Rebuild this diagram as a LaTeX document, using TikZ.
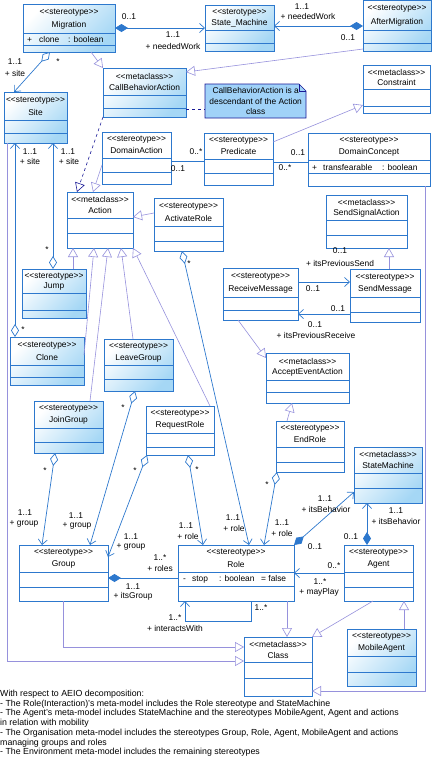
\documentclass[tikz,border=0pt]{standalone}
\usepackage{fontspec}
\setmainfont{Liberation Sans}
\usetikzlibrary{arrows.meta,calc}

\definecolor{umlblue}{RGB}{45,120,205}
\definecolor{gradblue}{RGB}{165,215,245}
\definecolor{genlav}{RGB}{150,145,220}
\definecolor{notenavy}{RGB}{25,25,150}
\definecolor{notefill}{RGB}{160,210,248}

\newcommand\ster[1]{<\kern0pt<#1>\kern0pt>}

\tikzset{
  classbox/.style={draw=umlblue, line width=0.8pt, inner sep=0pt, outer sep=0pt},
  gradbox/.style={top color=white, bottom color=gradblue, shading angle=45},
  plainbox/.style={fill=white},
  compline/.style={draw=umlblue, line width=0.8pt},
  boxtext/.style={font=\fontsize{8.4}{10}\selectfont, inner sep=0pt},
  lbl/.style={font=\fontsize{8.4}{10}\selectfont, inner sep=0pt},
  assoc/.style={draw=umlblue, line width=0.7pt},
  nav/.style={assoc, -{Straight Barb[length=5pt,width=9pt]}},
  agg/.style={assoc, {Diamond[open,length=13pt,width=8pt,fill=white]}-{Straight Barb[length=5pt,width=9pt]}},
  comp/.style={assoc, {Diamond[length=13pt,width=8pt]}-{Straight Barb[length=5pt,width=9pt]}},
  gen/.style={draw=genlav, line width=0.6pt, -{Triangle[open,length=9pt,width=10pt,fill=white]}},
  realize/.style={draw=notenavy, line width=0.6pt, dashed, -{Triangle[open,length=9pt,width=10pt,fill=white]}},
  noteline/.style={draw=notenavy, line width=0.6pt, dashed},
}

% class box: [fill] name, corner, width, height, header, 2nd line, stereotype, title
\newcommand\umlclass[9][plainbox]{%
  \node[classbox,#1,minimum width=#4pt,minimum height=#5pt,anchor=north west] (#2) at (#3) {};
  \draw[compline] ([yshift=-#6pt]#2.north west) -- ([yshift=-#6pt]#2.north east);
  \draw[compline] ([yshift=-#7pt]#2.north west) -- ([yshift=-#7pt]#2.north east);
  \node[boxtext] (#2-st) at ([yshift=-0.3*#6pt]#2.north) {\ster{#8}};
  \node[boxtext] (#2-nm) at ([yshift=-0.73*#6pt]#2.north) {#9};
}

\begin{document}
\begin{tikzpicture}[x=1pt,y=-1pt]
\useasboundingbox (0,0) rectangle (432,763);

% classes
\umlclass[gradbox]{migration}{23,4}{92}{48}{29}{41}{stereotype}{Migration}
\umlclass[gradbox]{statem}{205,5}{69}{46}{25}{38}{sterotype}{State\_Machine}
\umlclass[gradbox]{aftermig}{363,0}{68}{51}{30}{43}{stereotype}{AfterMigration}
\umlclass[gradbox]{callba}{103,68}{83}{49}{27}{40}{metaclass}{CallBehaviorAction}
\umlclass{constraint}{363,65}{67}{48}{24}{41}{metaclass}{Constraint}
\umlclass[gradbox]{site}{4,92}{63}{51}{28}{41}{stereotype}{Site}
\umlclass{domainaction}{102,132}{69}{52}{26}{40}{stereotype}{DomainAction}
\umlclass{predicate}{204,133}{69}{52}{26}{40}{stereotype}{Predicate}
\umlclass{domainconcept}{308,133}{122}{53}{27}{40}{stereotype}{DomainConcept}
\umlclass{action}{67,192}{66}{56}{26}{41}{metaclass}{Action}
\umlclass{activaterole}{154,198}{69}{53}{28}{43}{stereotype}{ActivateRole}
\umlclass{sendsignal}{326,195}{81}{53}{25}{40}{metaclass}{SendSignalAction}
\umlclass{receivemsg}{223,268}{75}{52}{29}{42}{stereotype}{ReceiveMessage}
\umlclass{sendmsg}{350,269}{70}{53}{28}{43}{stereotype}{SendMessage}
\umlclass[gradbox]{jump}{22,269}{64}{49}{24}{41}{stereotype}{Jump}
\umlclass[gradbox]{clone}{10,337}{74}{48}{28}{40}{stereotype}{Clone}
\umlclass[gradbox]{leavegroup}{104,339}{69}{52}{26}{40}{stereotype}{LeaveGroup}
\umlclass{accept}{266,353}{83}{50}{27}{39}{metaclass}{AcceptEventAction}
\umlclass[gradbox]{joingroup}{34,401}{69}{52}{27}{41}{stereotype}{JoinGroup}
\umlclass{requestrole}{146,406}{68}{49}{27}{41}{stereotype}{RequestRole}
\umlclass{endrole}{276,421}{68}{51}{26}{41}{stereotype}{EndRole}
\umlclass[gradbox]{statemachine}{354,447}{68}{56}{26}{41}{metaclass}{StateMachine}
\umlclass{group}{19,545}{89}{56}{27}{42}{stereotype}{Group}
\umlclass{role}{178,545}{116}{56}{27}{41}{stereotype}{Role}
\umlclass{agent}{344,545}{69}{56}{27}{42}{stereotype}{Agent}
\umlclass[gradbox]{mobileagent}{347,629}{69}{57}{27}{43}{stereotype}{MobileAgent}
\umlclass{class}{244,637}{68}{59}{25}{41}{metaclass}{Class}

% attributes
\node[lbl, anchor=west] (migration-at) at (27,39) {\makebox[12pt][l]{+}\makebox[29pt][l]{clone}: boolean};
\node[lbl, anchor=west] (domainconcept-at) at (312,167) {\makebox[11pt][l]{+}\makebox[59pt][l]{transfearable}: boolean};
\node[lbl, anchor=west] (role-at) at (183,579) {\makebox[9pt][l]{-}\makebox[27pt][l]{stop}\makebox[42pt][l]{: boolean}= false};

% note
\filldraw[fill=notefill, draw=notenavy, line width=0.7pt] (205,84) -- (299,84) -- (306,91) -- (306,118) -- (205,118) -- cycle;
\draw[draw=notenavy, line width=0.6pt] (299,84) -- (299,91) -- (306,91);
\node[lbl, minimum width=101pt, minimum height=34pt, anchor=north west, align=center,
  font=\fontsize{8.4}{10.5}\selectfont] (note) at (205,84) {CallBehaviorAction is a\\descendant of the Action\\class};

% associations
\draw[comp] ($(migration.north east)+(0,24)$) -- ($(statem.north west)+(0,23)$);
\draw[comp] ($(aftermig.north west)+(0,26)$) -- ($(statem.north east)+(0,21)$);
\draw[agg] ($(migration.south west)+(27,0)$) -- ($(site.north west)+(10,0)$);
\draw[agg] ($(jump.north west)+(31,0)$) -- ($(site.south west)+(49,0)$);
\draw[agg] ($(clone.north west)+(5,0)$) -- ($(site.south west)+(11,0)$);
\draw[assoc] ($(domainaction.north east)+(0,29)$) -- ($(predicate.north west)+(0,28)$);
\draw[assoc] ($(predicate.north east)+(0,29)$) -- ($(domainconcept.north west)+(0,29)$);
\draw[nav] ($(receivemsg.north east)+(0,14)$) -- ($(sendmsg.north west)+(0,13)$);
\draw[nav] ($(sendmsg.north west)+(0,45)$) -- ($(receivemsg.north east)+(0,46)$);
\draw[agg] ($(activaterole.south west)+(28,0)$) -- ($(role.north west)+(71,0)$);
\draw[agg] ($(requestrole.south west)+(1,0)$) -- ($(group.north east)+(0,12)$);
\draw[agg] ($(requestrole.south west)+(42,0)$) -- ($(role.north west)+(25,0)$);
\draw[agg] ($(joingroup.south west)+(21,0)$) -- ($(group.north west)+(23,0)$);
\draw[agg] ($(leavegroup.south west)+(31,0)$) -- ($(group.north west)+(71,0)$);
\draw[agg] ($(endrole.south west)+(1,0)$) -- ($(role.north west)+(86,0)$);
\draw[comp] (role.north east) -- ($(statemachine.south west)+(0,-11)$);
\draw[comp] ($(agent.north west)+(23,0)$) -- ($(statemachine.south west)+(13,0)$);
\draw[nav] ($(agent.north west)+(0,28)$) -- ($(role.north east)+(0,28)$);
\draw[assoc, {Diamond[length=13pt,width=8pt]}-] ($(group.north east)+(0,33)$) -- ($(role.north west)+(0,33)$);
\draw[nav] ($(role.south west)+(73,0)$) |- ($(role.south west)+(7,20)$) -- ($(role.south west)+(7,0)$);

% generalizations
\draw[gen] ($(aftermig.south west)+(0,-2)$) -- ($(callba.north east)+(0,4)$);
\draw[gen] ($(migration.south west)+(68,0)$) -- (callba.north west);
\draw[gen] ($(predicate.north east)+(0,9)$) -- ($(constraint.north west)+(0,40)$);
\draw[gen] ($(domainaction.north west)+(0,33)$) -- ($(action.north west)+(26,0)$);
\draw[gen] ($(activaterole.north west)+(0,15)$) -- ($(action.north east)+(0,25)$);
\draw[gen] ($(jump.north west)+(51,0)$) -- ($(action.south west)+(6,0)$);
\draw[gen] ($(clone.north east)+(0,18)$) -- ($(action.south west)+(27,0)$);
\draw[gen] ($(joingroup.north west)+(56,0)$) -- ($(action.south west)+(41,0)$);
\draw[gen] ($(leavegroup.north west)+(29,0)$) -- ($(action.south west)+(54,0)$);
\draw[gen] ($(requestrole.north east)+(-4,0)$) -- (action.south east);
\draw[gen] ($(sendmsg.north west)+(39,0)$) -- ($(sendsignal.south west)+(63,0)$);
\draw[gen] ($(receivemsg.south west)+(15,0)$) -- ($(accept.north west)+(0,5)$);
\draw[gen] ($(endrole.north west)+(11,0)$) -- ($(accept.south west)+(26,0)$);
\draw[gen] ($(role.south east)+(-7,0)$) -- ($(class.north west)+(43,0)$);
\draw[gen] ($(agent.south west)+(29,0)$) -- (class.north east);
\draw[gen] ($(mobileagent.north west)+(57,0)$) -- ($(agent.south west)+(60,0)$);
\draw[gen] ($(group.south west)+(44,0)$) |- ($(class.north west)+(0,10)$);
\draw[gen] ($(site.south west)+(3,0)$) |- ($(class.north west)+(0,24)$);
\draw[gen] ($(domainconcept.south east)+(-5,0)$) |- ($(class.north east)+(0,54)$);

% note links
\draw[noteline] ($(callba.north east)+(0,41)$) -- ($(note.north west)+(0,25)$);
\draw[realize] (callba.south west) -- ($(action.north west)+(10,0)$);

% multiplicities and roles
\node[lbl] (m1) at (129,17) {0..1};
\node[lbl] (m2) at (173,35) {1..1};
\node[lbl] (m3) at (173,46) {+ neededWork};
\node[lbl] (m4) at (302,7) {1..1};
\node[lbl] (m5) at (308,16) {+ neededWork};
\node[lbl] (m6) at (348,38) {0..1};
\node[lbl] (m7) at (15,62) {1..1};
\node[lbl] (m8) at (15,73) {+ site};
\node[lbl] (m9) at (58,62) {*};
\node[lbl] (m10) at (196,152) {0..*};
\node[lbl] (m11) at (178,169) {0..1};
\node[lbl] (m12) at (298,153) {0..1};
\node[lbl] (m13) at (285,168) {0..*};
\node[lbl] (m14) at (30,152) {1..1};
\node[lbl] (m15) at (30,161) {+ site};
\node[lbl] (m16) at (68,152) {1..1};
\node[lbl] (m17) at (69,161) {+ site};
\node[lbl] (m18) at (47,250) {*};
\node[lbl] (m19) at (23,330) {*};
\node[lbl] (m20) at (189,264) {*};
\node[lbl] (m21) at (340,251) {0..1};
\node[lbl] (m22) at (340,263) {+ itsPreviousSend};
\node[lbl] (m23) at (313,289) {0..1};
\node[lbl] (m24) at (338,309) {0..1};
\node[lbl] (m25) at (315,325) {0..1};
\node[lbl] (m26) at (316,335) {+ itsPreviousReceive};
\node[lbl] (m27) at (45,471) {*};
\node[lbl] (m28) at (123,408) {*};
\node[lbl] (m29) at (135,471) {*};
\node[lbl] (m30) at (197,470) {*};
\node[lbl] (m31) at (267,485) {*};
\node[lbl] (m32) at (25,513) {1..1};
\node[lbl] (m33) at (24,524) {+ group};
\node[lbl] (m34) at (76,516) {1..1};
\node[lbl] (m35) at (77,526) {+ group};
\node[lbl] (m36) at (131,537) {1..1};
\node[lbl] (m37) at (131,547) {+ group};
\node[lbl] (m38) at (186,526) {1..1};
\node[lbl] (m39) at (188,536) {+ role};
\node[lbl] (m40) at (233,518) {1..1};
\node[lbl] (m41) at (234,528) {+ role};
\node[lbl] (m42) at (282,523) {1..1};
\node[lbl] (m43) at (282,533) {+ role};
\node[lbl] (m44) at (325,499) {1..1};
\node[lbl] (m45) at (326,509) {+ itsBehavior};
\node[lbl] (m46) at (396,511) {1..1};
\node[lbl] (m47) at (396,521) {+ itsBehavior};
\node[lbl] (m48) at (351,537) {0..1};
\node[lbl] (m49) at (315,547) {0..1};
\node[lbl] (m50) at (160,558) {1..*};
\node[lbl] (m51) at (160,568) {+ roles};
\node[lbl] (m52) at (133,587) {1..1};
\node[lbl] (m53) at (133,596) {+ itsGroup};
\node[lbl] (m54) at (334,566) {0..*};
\node[lbl] (m55) at (320,582) {1..*};
\node[lbl] (m56) at (319,592) {+ mayPlay};
\node[lbl] (m57) at (261,608) {1..*};
\node[lbl] (m58) at (175,618) {1..*};
\node[lbl] (m59) at (175,628) {+ interactsWith};

% legend
\node[lbl, anchor=north west, align=left, font=\fontsize{8.8}{9.7}\selectfont] (legend) at (0,690) {%
With respect to AEIO decomposition:\\
- The Role(Interaction)'s meta-model includes the Role stereotype and StateMachine\\
- The Agent's meta-model includes StateMachine and the stereotypes MobileAgent, Agent and actions\\
in relation with mobility\\
- The Organisation meta-model includes the stereotypes Group, Role, Agent, MobileAgent and actions\\
managing groups and roles\\
- The Environment meta-model includes the remaining stereotypes};
\end{tikzpicture}
\end{document}
